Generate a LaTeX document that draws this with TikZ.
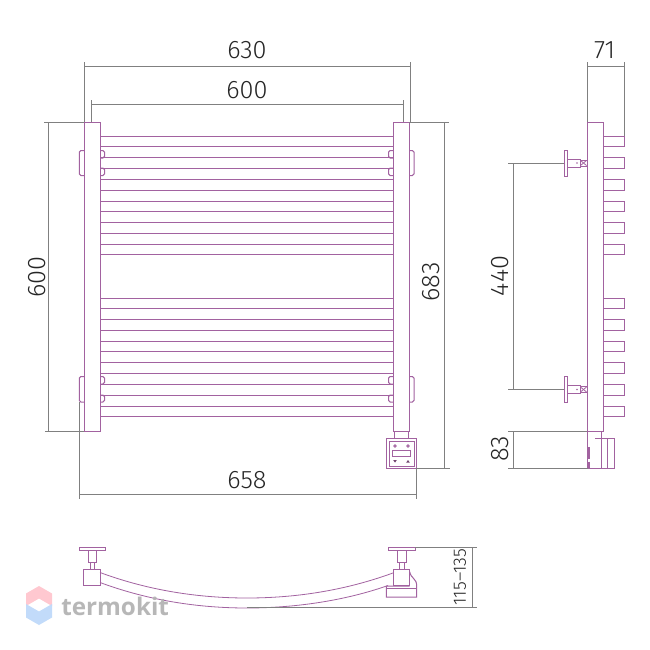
\documentclass[tikz,border=0pt]{standalone}
\usepackage{fontspec}
\setmainfont{Fira Sans Light}
\newfontfamily\wmfont{Open Sans}[BoldFont={Open Sans Bold}]
\definecolor{pur}{HTML}{A262A0}
\definecolor{dimc}{HTML}{808080}
\definecolor{wmgray}{HTML}{B4B4B4}
\definecolor{wmpink}{HTML}{FFC6CE}
\definecolor{wmblue}{HTML}{BFDAFA}
\tikzset{
  part/.style={draw=pur,line width=0.75pt,line join=miter},
  thin part/.style={draw=pur,line width=0.6pt},
  dimline/.style={draw=dimc,line width=0.75pt},
  dimtext/.style={font=\fontsize{19}{19}\selectfont,text=black!85,inner sep=0pt},
}
\begin{document}
\begin{tikzpicture}[x=0.75pt,y=-0.75pt]
\useasboundingbox[fill=white] (0,0) rectangle (650,650);

% ---- front view bars
\foreach \a/\b in {136/146,157/168,179/190,201/211,222/233,244/254,298/308,319/330,341/351,362/373,384/395,406/416}{
  \draw[part] (100,\a) rectangle (393,\b);
  \draw[part] (603,\a) rectangle (624.5,\b);
}
% columns
\draw[part] (84,122) rectangle (100,431);
\draw[part] (393,122) rectangle (409,431);
% brackets
\foreach \t/\u/\v/\w in {150.5/158/168/175.5,376.5/384/395/402}{
  \draw[part,rounded corners=1.2pt] (84,\t) -- (79.3,\t) -- (79.3,\w) -- (84,\w);
  \draw[part,rounded corners=1.2pt] (100,\t) -- (104.5,\t) -- (104.5,\u) -- (100,\u);
  \draw[part,rounded corners=1.2pt] (100,\v) -- (104.5,\v) -- (104.5,\w) -- (100,\w);
  \draw[part,rounded corners=1.2pt] (409,\t) -- (414,\t) -- (414,\w) -- (409,\w);
  \draw[part,rounded corners=1.2pt] (393,\t) -- (388.5,\t) -- (388.5,\u) -- (393,\u);
  \draw[part,rounded corners=1.2pt] (393,\v) -- (388.5,\v) -- (388.5,\w) -- (393,\w);
}
% thermostat front
\draw[part] (394.5,431) rectangle (408.5,438.3);
\draw[part] (386.3,438.3) rectangle (416.7,468.3);
\draw[part] (389,441) rectangle (414,466);
\draw[part] (392.7,450) rectangle (410,456.7);
\draw[thin part] (395,446) circle (1.3);
\draw[thin part] (408,446) circle (1.3);
\fill[pur!70!black] (393.2,460) -- (396.8,460) -- (395,462.6) -- cycle;
\fill[pur!70!black] (406.2,462.6) -- (409.8,462.6) -- (408,460) -- cycle;

% ---- side view
\draw[part] (587,122) rectangle (603,431);
\foreach \c in {163,389.5}{
  \draw[part] (564.3,\c-13) rectangle (567,\c+13);
  \draw[part] (567,\c-4) rectangle (580,\c+4);
  \draw[part] (580,\c-3) rectangle (587,\c+3);
  \draw[thin part] (580.5,\c-2.5) -- (586.5,\c+2.5) (580.5,\c+2.5) -- (586.5,\c-2.5);
  \fill[pur] (577,\c) circle (0.9);
}
\draw[part] (587.7,431) -- (587.7,468.3) -- (614,468.3) -- (614,438.3) -- (595,438.3);
\draw[part] (601.7,431) -- (601.7,468.3);
\draw[part] (607,438.3) -- (607,468.3);
\draw[draw=pur,line width=1.3pt,dash pattern=on 9pt off 2pt] (588.7,447) -- (588.7,468);

% ---- bottom view
\draw[thin part] (100,572.5) .. controls (150,591) and (200,598) .. (247,598)
  .. controls (294,598) and (344,591) .. (393.7,572.7);
\draw[thin part] (100,582.5) .. controls (150,601) and (200,608) .. (247,608)
  .. controls (294,608) and (344,601) .. (388,585.5);
\foreach \p/\q in {79/105,388.3/415}{
  \draw[part] (\p,547.3) rectangle (\q,550.3);
}
\draw[part] (88.7,550.3) rectangle (96,562);
\draw[part] (90.5,562) rectangle (94,569.3);
\draw[part] (83.7,569.3) rectangle (100,585.7);
\draw[part] (397.3,550.3) rectangle (406,562);
\draw[part] (399.5,562) rectangle (404,569.3);
\draw[part] (393.7,569.3) rectangle (409.7,585.7);
\draw[part] (409.7,571.7) .. controls (411,579) and (416.7,578) .. (416.7,586) -- (416.7,597) -- (386.3,597) -- (386.3,586) -- (409.7,586);
\draw[part] (386.3,588.5) -- (416.7,588.5);

% ---- dimensions
% 630
\draw[dimline] (84,122) -- (84,62) (410,122) -- (410,62) (84,66) -- (410,66);
% 600 top
\draw[dimline] (91.5,122) -- (91.5,100) (403,122) -- (403,100) (91.5,104) -- (403,104);
% 600 left
\draw[dimline] (44,122) -- (84,122) (45,431) -- (84,431) (48.5,122) -- (48.5,431);
% 683
\draw[dimline] (409,122) -- (449,122) (416.7,468.3) -- (450,468.3) (444.5,122) -- (444.5,468.3);
% 658
\draw[dimline] (79.3,402) -- (79.3,499) (416.7,468.3) -- (416.7,499) (79.3,494) -- (416.7,494);
% 71
\draw[dimline] (587,122) -- (587,62) (624.5,136) -- (624.5,62) (587,66) -- (624.5,66);
% 440
\draw[dimline] (508,163) -- (564.3,163) (508,389.5) -- (564.3,389.5) (513,163) -- (513,389.5);
% 83
\draw[dimline] (508,431) -- (587,431) (508,468.3) -- (587.7,468.3) (513,431) -- (513,468.3);
% 115-135
\draw[dimline] (415,547.5) -- (477,547.5) (247,607.5) -- (477,607.5) (472.5,547.5) -- (472.5,607.5);

% ---- labels
\node[dimtext] (d630) at (247,50) {630};
\node[dimtext] (d600t) at (247,90) {600};
\node[dimtext] (d658) at (247,480) {658};
\node[dimtext] (d71) at (604.5,50) {71};
\node[dimtext,rotate=90] (d600l) at (37,277) {600};
\node[dimtext,rotate=90] (d683) at (431,282) {683};
\node[dimtext,rotate=90] (d440) at (500,276) {440};
\node[dimtext,rotate=90] (d83) at (500,449) {83};
\node[dimtext,rotate=90,font=\fontsize{13.5}{13.5}\selectfont] (d115) at (460,577) {115–135};

% ---- watermark
\begin{scope}[opacity=0.95]
\fill[wmpink] (39,586) -- (52,593.5) -- (52,606) -- (39,598.5) -- (26,606) -- (26,593.5) -- cycle;
\fill[wmblue] (39,611.5) -- (52,604) -- (52,617.5) -- (39,625) -- (26,617.5) -- (26,604) -- cycle;
\end{scope}
\node[font=\wmfont\bfseries\fontsize{18.2}{18.2}\selectfont,text=wmgray,opacity=0.95,inner sep=0pt,anchor=west] (wm) at (61,606) {termokit};
\end{tikzpicture}
\end{document}
